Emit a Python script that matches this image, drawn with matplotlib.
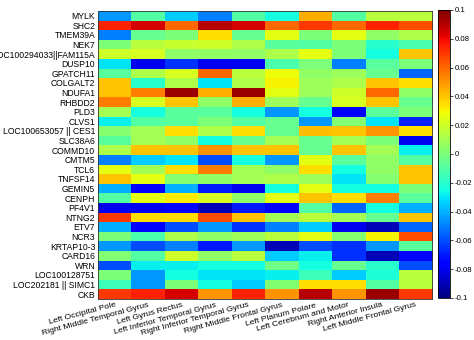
import numpy as np
import matplotlib
matplotlib.use('Agg')
import matplotlib.pyplot as plt

# ---------- data ----------

genes = ["MYLK", "SHC2", "TMEM39A", "NEK7", "LOC100294033||FAM115A", "DUSP10",
         "GPATCH11", "COLGALT2", "NDUFA1", "RHBDD2", "PLD3", "CLVS1",
         "LOC100653057 || CES1", "SLC38A6", "COMMD10", "CMTM5", "TCL6", "TNFSF14",
         "GEMIN5", "CENPH", "PF4V1", "NTNG2", "ETV7", "NCR3", "KRTAP10-3",
         "CARD16", "WRN", "LOC100128751", "LOC202181 || SIMC1", "CKB"]

regions = ["Left Occipital Pole", "Right Middle Temporal Gyrus", "Left Gyrus Rectus",
           "Left Inferior Temporal Gyrus", "Right Inferior Temporal Gyrus",
           "Right Middle Frontal Gyrus", "Left Planum Polare", "Left Cerebrum and Motor",
           "Right Anterior Insula", "Left Middle Frontal Gyrus"]

values = [
    [-0.045, -0.010, -0.035, -0.050, -0.010, -0.025, 0.045, -0.010, 0.015, 0.015],
    [0.075, 0.085, 0.060, 0.090, 0.085, 0.060, 0.070, 0.060, 0.075, 0.065],
    [-0.050, -0.005, 0.000, 0.035, -0.005, 0.025, 0.000, 0.025, 0.005, 0.012],
    [0.000, 0.015, 0.018, 0.020, 0.012, -0.008, -0.010, 0.000, -0.020, -0.012],
    [0.020, 0.022, 0.005, 0.005, 0.005, 0.012, 0.025, 0.000, -0.025, 0.040],
    [-0.030, -0.080, -0.065, -0.080, -0.080, -0.012, 0.000, -0.050, -0.008, 0.000],
    [-0.008, 0.012, 0.022, 0.060, 0.015, 0.028, 0.005, 0.008, -0.005, -0.055],
    [0.040, -0.020, 0.012, -0.030, 0.012, 0.030, 0.008, 0.012, 0.040, 0.035],
    [0.040, 0.055, 0.095, 0.045, 0.095, 0.025, 0.008, 0.020, 0.060, 0.005],
    [0.055, 0.022, 0.040, 0.005, 0.045, 0.008, -0.005, 0.022, 0.040, -0.005],
    [0.010, -0.025, -0.008, -0.008, -0.025, -0.045, -0.025, -0.075, -0.008, 0.000],
    [-0.028, -0.010, -0.008, 0.000, -0.010, -0.005, -0.045, 0.002, -0.030, -0.068],
    [0.003, 0.010, 0.035, 0.012, 0.035, -0.005, 0.042, 0.040, 0.050, 0.035],
    [-0.008, 0.010, 0.005, -0.025, -0.005, 0.010, -0.005, 0.010, 0.000, -0.080],
    [0.012, 0.040, 0.040, 0.050, 0.040, 0.040, -0.005, 0.040, 0.010, -0.028],
    [-0.050, -0.035, -0.030, -0.060, -0.025, -0.045, 0.025, -0.008, 0.005, -0.010],
    [0.025, 0.010, 0.035, 0.055, 0.010, 0.005, 0.035, -0.025, 0.005, 0.040],
    [0.040, 0.025, 0.003, 0.005, 0.010, 0.012, 0.008, -0.030, 0.003, 0.040],
    [-0.040, -0.075, -0.040, -0.070, -0.080, -0.025, 0.025, -0.025, -0.025, 0.000],
    [-0.010, 0.025, 0.032, 0.022, 0.005, 0.025, 0.040, 0.035, 0.055, -0.008],
    [-0.080, -0.080, -0.075, -0.090, -0.070, -0.075, -0.010, -0.055, -0.025, -0.040],
    [0.070, 0.035, 0.035, 0.065, 0.040, 0.010, 0.015, 0.010, -0.005, 0.040],
    [-0.040, -0.075, -0.060, -0.045, -0.065, -0.050, -0.035, -0.080, -0.090, -0.055],
    [0.000, -0.012, 0.012, 0.005, 0.008, 0.015, 0.025, 0.003, 0.030, 0.065],
    [-0.045, -0.060, -0.050, -0.070, -0.045, -0.090, -0.060, -0.065, -0.045, -0.008],
    [0.002, -0.010, 0.020, 0.005, 0.015, -0.035, -0.028, -0.065, -0.090, -0.075],
    [-0.060, -0.028, -0.028, -0.025, -0.025, -0.003, -0.025, -0.005, -0.020, -0.060],
    [0.000, -0.045, -0.025, -0.030, -0.030, -0.028, -0.015, -0.035, -0.022, 0.015],
    [-0.015, -0.045, 0.000, -0.025, -0.035, 0.002, 0.035, 0.035, -0.010, 0.015],
    [0.070, 0.075, 0.085, 0.050, 0.075, 0.050, 0.090, 0.050, 0.095, 0.070],
]

cbar_ticks = [0.1, 0.08, 0.06, 0.04, 0.02, 0, -0.02, -0.04, -0.06, -0.08, -0.1]
cbar_labels = ["0.1", "0.08", "0.06", "0.04", "0.02", "0", "-0.02", "-0.04", "-0.06", "-0.08", "-0.1"]

# ---------- plot ----------

plt.rcParams['font.family'] = ['Liberation Sans', 'DejaVu Sans']

W, H = 474, 340
fig = plt.figure(figsize=(W / 100, H / 100), dpi=100)
ax = fig.add_axes([98 / W, 1 - 299 / H, 334 / W, 288 / H])
cax = fig.add_axes([438 / W, 1 - 298 / H, 12 / W, 288 / H])

im = ax.imshow(np.array(values), cmap='jet', vmin=-0.1, vmax=0.1,
               aspect='auto', interpolation='nearest')

ax.set_yticks(range(len(genes)))
ax.set_yticklabels(genes, fontsize=6.2)
ax.set_xticks(range(len(regions)))
ax.set_xticklabels(regions, fontsize=6.1, rotation=15, ha='right',
                   rotation_mode='anchor')
ax.tick_params(length=0, pad=2)
for s in ax.spines.values():
    s.set_linewidth(0.6)
    s.set_color('#333333')

cb = fig.colorbar(im, cax=cax)
cb.set_ticks(cbar_ticks)
cb.set_ticklabels(cbar_labels)
cb.ax.tick_params(labelsize=5.6, length=2, width=0.5, pad=1.5)
cb.outline.set_linewidth(0.6)

fig.savefig('out.png', dpi=100)
